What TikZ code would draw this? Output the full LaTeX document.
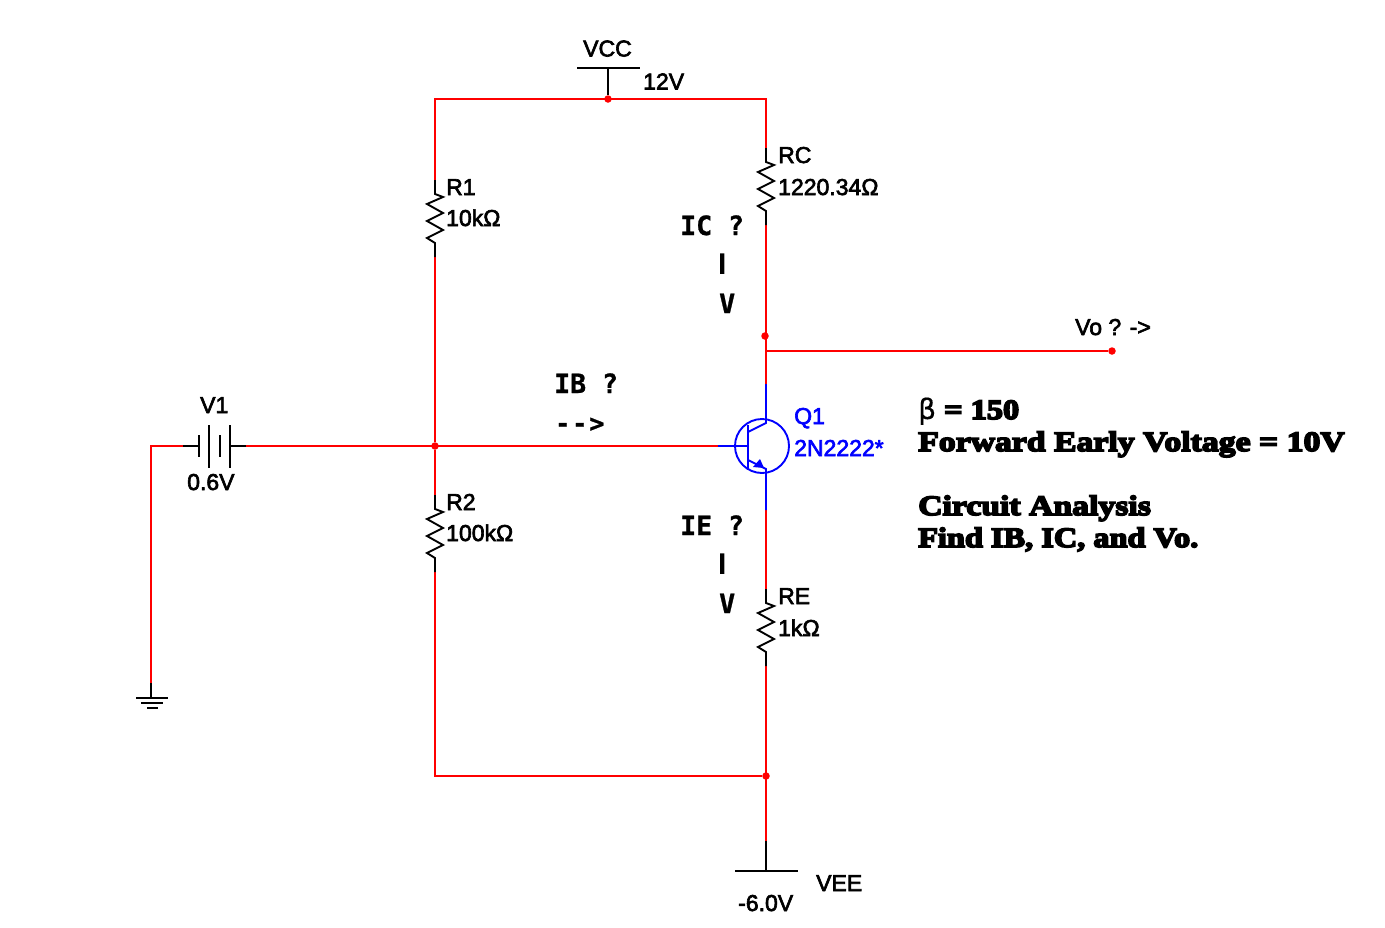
\documentclass[tikz,border=0pt]{standalone}
\usepackage{fontspec}
\setmainfont{Liberation Sans}
\newfontfamily\labfont[FakeBold=2.8]{Liberation Sans}
\newfontfamily\heavyfont[FakeBold=6,FakeStretch=1.205]{Liberation Serif Bold}
\newfontfamily\heavynarrow[FakeBold=6,FakeStretch=1.155]{Liberation Serif Bold}
\newfontfamily\handfont[FakeBold=1]{DejaVu Sans Mono Bold}
\newfontfamily\barfont{Liberation Sans Bold}
\newfontfamily\symfont[FakeBold=0.5]{DejaVu Sans}
\definecolor{wirered}{RGB}{255,0,0}
\definecolor{partblue}{RGB}{0,0,255}
\tikzset{
  wire/.style={draw=wirered,line width=1.9pt,line join=miter},
  lead/.style={draw=black,line width=1.9pt,line join=miter},
  thinlead/.style={draw=black,line width=1.1pt},
  bluelead/.style={draw=partblue,line width=1.9pt},
  dotnode/.style={circle,fill=wirered,inner sep=0pt,minimum size=7.5pt},
  lab/.style={inner sep=0pt,anchor=base west,font=\fontsize{23}{23}\labfont},
  bluelab/.style={lab,text=partblue},
  heavy/.style={inner sep=0pt,anchor=base west,font=\fontsize{28}{28}\heavyfont},
  heavyn/.style={inner sep=0pt,anchor=base west,font=\fontsize{28}{28}\heavynarrow},
  hand/.style={inner sep=0pt,anchor=base west,font=\fontsize{26.5}{27}\handfont},
  handbar/.style={inner sep=0pt,anchor=base west,font=\fontsize{30}{30}\barfont},
  handdash/.style={inner sep=0pt,anchor=base west,font=\fontsize{25}{25}\handfont},
  pics/zig/.style={code={
    \draw[lead] (0,0) -- (0,14) -- (8,17) -- (-8,24) -- (8,33) -- (-8,41) -- (8,50) -- (-8,58) -- (0,63) -- (0,77);
  }}
}
\begin{document}
\begin{tikzpicture}[x=1pt,y=-1pt]
\useasboundingbox (0,0) rectangle (1385,927);
% junctions and terminals
\coordinate (tl) at (435,99);
\coordinate (tr) at (766,99);
\node[dotnode] (jvcc) at (608,99) {};
\node[dotnode] (jb) at (435,446) {};
\node[dotnode] (jo) at (765,336) {};
\node[dotnode] (jbot) at (766,776) {};
\node[dotnode] (vo) at (1112,351) {};
\coordinate (bl) at (435,776);
\coordinate (otap) at (766,351);
\coordinate (r1t) at (435,180);
\coordinate (r1b) at (435,257);
\coordinate (r2t) at (435,495);
\coordinate (r2b) at (435,572);
\coordinate (rct) at (766,148);
\coordinate (rcb) at (766,225);
\coordinate (ret) at (766,589);
\coordinate (reb) at (766,666);
\coordinate (cl) at (766,384);
\coordinate (el) at (766,510);
\coordinate (bs) at (718,446);
\coordinate (batl) at (183,446);
\coordinate (batr) at (246,446);
\coordinate (gc) at (151,446);
\coordinate (gt) at (151,683);
\coordinate (gb) at (151,698);
\coordinate (vccbar) at (608,68);
\coordinate (veet) at (766,841);
\coordinate (veebar) at (766,871);
% red wires
\draw[wire] (r1t) |- (tr) -- (rct);
\draw[wire] (r1b) -- (jb) -- (r2t);
\draw[wire] (r2b) |- (jbot);
\draw[wire] (rcb) -- (cl);
\draw[wire] (otap) -- (vo);
\draw[wire] (el) -- (ret);
\draw[wire] (reb) -- (veet);
\draw[wire] (batr) -- (bs);
\draw[wire] (batl) -- (gc) -- (gt);
% resistors
\pic at (r1t) {zig};
\pic at (r2t) {zig};
\pic at (rct) {zig};
\pic at (ret) {zig};
% battery
\draw[lead] (batl) -- (199,446);
\draw[lead] (199,435) -- (199,457);
\draw[lead] (209,425) -- (209,468);
\draw[lead] (220,435) -- (220,457);
\draw[lead] (230,425) -- (230,468);
\draw[lead] (230,446) -- (batr);
% ground
\draw[lead] (gt) -- (gb);
\draw[lead] (136,698) -- (168,698);
\draw[lead] (141,703) -- (163,703);
\draw[lead] (147,708) -- (158,708);
% supplies
\draw[lead] (vccbar) -- (jvcc);
\draw[thinlead] (577,68) -- (640,68);
\draw[lead] (veet) -- (veebar);
\draw[thinlead] (735,871) -- (798,871);
% transistor
\draw[bluelead] (762,446) circle (27);
\draw[bluelead] (bs) -- (748,446);
\draw[bluelead] (748,425) -- (748,470);
\draw[bluelead] (748,432) -- (766,423) -- (cl);
\draw[bluelead] (748,460) -- (766,469) -- (el);
\fill[partblue] (764,468) -- (753,467) -- (760,459) -- cycle;
% labels
\node[lab] (vcc) at (583,56.5) {VCC};
\node[lab] (v12) at (643,89.5) {12V};
\node[lab] (r1a) at (446,195) {R1};
\node[lab] (r1v) at (446,226) {10kΩ};
\node[lab] (rca) at (778,163) {RC};
\node[lab] (rcv) at (778,195) {1220.34Ω};
\node[lab] (r2a) at (446,510) {R2};
\node[lab] (r2v) at (446,541) {100kΩ};
\node[lab] (rea) at (778,604) {RE};
\node[lab] (rev) at (778,636) {1kΩ};
\node[lab] (v1) at (200,413) {V1};
\node[lab] (v1v) at (187,490) {0.6V};
\node[lab] (vee) at (816,891) {VEE};
\node[lab] (veev) at (738,911) {-6.0V};
\node[lab] (volab) at (1075,335) {Vo ? ->};
\node[bluelab] (q1) at (794,424) {Q1};
\node[bluelab] (q1t) at (794,456) {2N2222*};
\node[hand] (ic) at (680,235) {IC ?};
\node[handbar] (ic1) at (718,274) {I};
\node[hand] (ic2) at (719,313) {V};
\node[hand] (ie) at (680,535) {IE ?};
\node[handbar] (ie1) at (718,574) {I};
\node[hand] (ie2) at (719,613) {V};
\node[hand] (ib) at (554,393) {IB ?};
\node[handdash] (iba) at (555,432) {-\kern2pt-\kern2pt>};
\node[heavyn] (beta) at (918,419) {{\symfont β} = 150};
\node[heavy] (early) at (918,451) {Forward Early Voltage = 10V};
\node[heavy] (ca) at (918,515) {Circuit Analysis};
\node[heavyn] (find) at (918,547) {Find IB, IC, and Vo.};
\end{tikzpicture}
\end{document}
